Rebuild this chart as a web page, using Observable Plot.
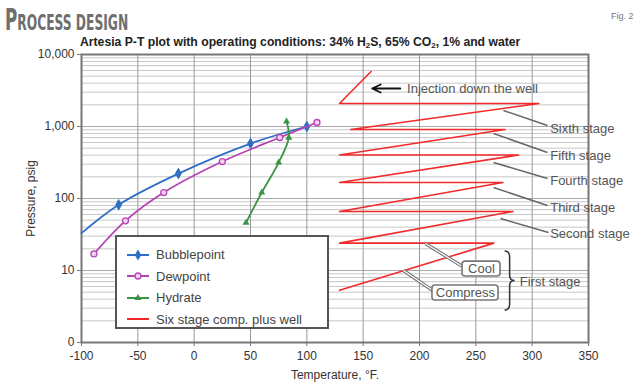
<!DOCTYPE html>
<html>
<head>
<meta charset="utf-8">
<script src="https://cdn.jsdelivr.net/npm/d3@7"></script>
<script src="https://cdn.jsdelivr.net/npm/@observablehq/plot@0.6"></script>
<style>
  body { margin: 0; background: #fff; }
  #wrap { position: relative; width: 640px; height: 386px; overflow: hidden; font-family: "Liberation Sans", Arial, sans-serif; }
  #chart { position: absolute; left: 0; top: 0; }
  #hdr { position: absolute; left: 5px; top: 2px; color: #6e6e6e; font-weight: bold; font-family: "Liberation Sans Narrow", "DejaVu Sans Condensed", sans-serif; white-space: nowrap; transform: scaleX(0.62); transform-origin: left top; z-index: 3; }
  #hdr .big { font-size: 30px; }
  #hdr .sm { font-size: 22px; }
  #fig { position: absolute; left: 611px; top: 11px; font-size: 9px; color: #777; z-index: 3; }
  #title { position: absolute; left: 80px; top: 35px; font-size: 12.2px; font-weight: bold; color: #222; white-space: nowrap; z-index: 3; }
  #title sub { font-size: 8px; vertical-align: -2px; line-height: 0; }
  #legend { position: absolute; left: 115px; top: 235px; width: 214px; height: 94px; border: 2px solid #555; background: #fff; z-index: 3; box-sizing: border-box; padding-top: 7px; }
  #legend .row { height: 21.5px; display: flex; align-items: center; font-size: 13px; color: #444; }
  #legend svg { margin-left: 9px; margin-right: 6px; }
</style>
</head>
<body>
<div id="wrap">
  <div id="chart"></div>
  <div id="hdr"><span class="big">P</span><span class="sm">ROCESS DESIGN</span></div>
  <div id="fig">Fig. 2</div>
  <div id="title">Artesia P-T plot with operating conditions: 34% H<sub>2</sub>S, 65% CO<sub>2</sub>, 1% and water</div>
  <div id="legend"></div>
</div>
<script>
// ---- axes ----
const xTicks = [-100, -50, 0, 50, 100, 150, 200, 250, 300, 350];
const yTicks = [1, 10, 100, 1000, 10000];
const yTickLabels = ["0", "10", "100", "1,000", "10,000"];
const xLabel = "Temperature, \u00B0F.";
const yLabel = "Pressure, psig";

// ---- series ----
const seriesNames = ["Bubblepoint", "Dewpoint", "Hydrate", "Six stage comp. plus well"];
const seriesColors = ["#2e6fc4", "#b545b5", "#3a9446", "#f22a2a"];

const bubbleT = [-100, -67, -14, 50, 100];
const bubbleP = [33, 82, 222, 580, 1000];

const dewT = [-89, -61, -27, 25, 76, 109];
const dewP = [17, 49, 121, 326, 703, 1136];

const hydT = [46, 60, 75, 84, 82];
const hydP = [46, 121, 316, 700, 1170];

const stageT = [129, 266, 129, 283, 129, 274, 129, 288, 129, 276, 139, 306, 129, 157];
const stageP = [5.3, 24, 24, 66, 66, 167, 167, 402, 402, 908, 908, 2086, 2086, 5800];

// ---- annotations ----
const stageLabels = ["Sixth stage", "Fifth stage", "Fourth stage", "Third stage", "Second stage"];
const stageLabelT = [316, 316, 316, 316, 316];
const stageLabelP = [938, 395, 178, 75, 32.6];
const leadT1 = [274.5, 265.7, 265.7, 265.7, 271.9];
const leadP1 = [1668, 800, 316, 142, 52.7];
const leadT2 = [313.6, 313.6, 313.6, 313.6, 314.5];
const leadP2 = [1032, 435, 190, 80, 33.7];

const boxLabels = ["Cool", "Compress"];
const boxT = [255, 240.8];
const boxP = [10.5, 4.87];
const boxT1 = [238.2, 211.5];
const boxT2 = [271.9, 270.1];
const boxP1 = [8.25, 3.83];
const boxP2 = [13.3, 6.19];
const boxLeadT1 = [205.3, 185.8];
const boxLeadP1 = [23.7, 10];
const boxLeadT2 = [238, 211.5];
const boxLeadP2 = [11.4, 5.3];

const injLabel = "Injection down the well";
const injT = [183, 158, 189];   // arrow start, arrow end, text
const injP = 3373;

const firstLabel = "First stage";
const firstT = 289, firstP = 7.0;
const braceT = 276;
const braceP = [18.4, 2.78];

// ---- build tables ----
const bubble = bubbleT.map((t, i) => ({T: t, P: bubbleP[i]}));
const dew = dewT.map((t, i) => ({T: t, P: dewP[i]}));
const hyd = hydT.map((t, i) => ({T: t, P: hydP[i]}));
const stages = stageT.map((t, i) => ({T: t, P: stageP[i]}));
const leaders = stageLabels.map((s, i) => ({s, tx: stageLabelT[i], ty: stageLabelP[i], x1: leadT1[i], y1: leadP1[i], x2: leadT2[i], y2: leadP2[i]}));
const boxes = boxLabels.map((s, i) => ({s, x: boxT[i], y: boxP[i], x1: boxT1[i], x2: boxT2[i], y1: boxP1[i], y2: boxP2[i], lx1: boxLeadT1[i], ly1: boxLeadP1[i], lx2: boxLeadT2[i], ly2: boxLeadP2[i]}));

const minorP = [];
for (let k = 0; k < 4; k++) for (let m = 2; m <= 9; m++) minorP.push(m * Math.pow(10, k));

function brace(index, scales) {
  const x0 = scales.x(braceT);
  const y1 = scales.y(braceP[0]);
  const y2 = scales.y(braceP[1]);
  const ym = (y1 + y2) / 2;
  const w = 5;
  const p = `M${x0},${y1} Q${x0 + w},${y1} ${x0 + w},${y1 + 6} L${x0 + w},${ym - 5} Q${x0 + w},${ym} ${x0 + 2 * w},${ym} Q${x0 + w},${ym} ${x0 + w},${ym + 5} L${x0 + w},${y2 - 6} Q${x0 + w},${y2} ${x0},${y2}`;
  const g = d3.create("svg:path").attr("d", p).attr("fill", "none").attr("stroke", "#333").attr("stroke-width", 1.5);
  return g.node();
}

const chart = Plot.plot({
  width: 640,
  height: 386,
  marginLeft: 81,
  marginRight: 52,
  marginTop: 54,
  marginBottom: 44,
  style: {fontFamily: "Liberation Sans, Arial, sans-serif", fontSize: "12px", color: "#333", background: "transparent"},
  x: {domain: [-100, 350]},
  y: {type: "log", domain: [1, 10000]},
  marks: [
    Plot.ruleY(minorP, {stroke: "#c8c8c8", strokeWidth: 1}),
    Plot.ruleY([10, 100, 1000], {stroke: "#aaa", strokeWidth: 1}),
    Plot.ruleX(xTicks.slice(1, -1), {stroke: "#999", strokeWidth: 1}),
    Plot.frame({stroke: "#777", strokeWidth: 2}),
    Plot.axisX({ticks: xTicks, tickSize: 4, tickPadding: 5, label: null, tickFormat: d => String(d), stroke: "#777", fill: "#333"}),
    Plot.axisY({ticks: yTicks, tickSize: 4, tickPadding: 3, label: null, tickFormat: d => yTickLabels[yTicks.indexOf(d)], stroke: "#777", fill: "#333"}),
    Plot.text([xLabel], {frameAnchor: "bottom", dy: 36, fontSize: 12, fill: "#333"}),
    Plot.text([yLabel], {frameAnchor: "left", dx: -50, rotate: -90, textAnchor: "middle", fontSize: 12, fill: "#333"}),

    Plot.line(bubble, {x: "T", y: "P", stroke: seriesColors[0], strokeWidth: 1.8, curve: "catmull-rom"}),
    Plot.dot(bubble.slice(1), {x: "T", y: "P", symbol: "diamond", fill: seriesColors[0], r: 3.6}),
    Plot.line(dew, {x: "T", y: "P", stroke: seriesColors[1], strokeWidth: 1.8, curve: "catmull-rom"}),
    Plot.dot(dew, {x: "T", y: "P", symbol: "circle", fill: "#f3d2f3", stroke: seriesColors[1], strokeWidth: 1.3, r: 3}),
    Plot.line(hyd, {x: "T", y: "P", stroke: seriesColors[2], strokeWidth: 1.8, curve: "catmull-rom"}),
    Plot.dot(hyd, {x: "T", y: "P", symbol: "triangle", fill: seriesColors[2], r: 2.6}),
    Plot.line(stages, {x: "T", y: "P", stroke: seriesColors[3], strokeWidth: 1.6}),

    // stage leaders and labels
    Plot.link(leaders, {x1: "x1", y1: "y1", x2: "x2", y2: "y2", stroke: "#666", strokeWidth: 1.5}),
    Plot.text(leaders, {x: "tx", y: "ty", text: "s", textAnchor: "start", fontSize: 13, fill: "#555"}),

    // Cool / Compress boxes
    Plot.link(boxes, {x1: "lx1", y1: "ly1", x2: "lx2", y2: "ly2", stroke: "#777", strokeWidth: 3.4}),
    Plot.link(boxes, {x1: "lx1", y1: "ly1", x2: "lx2", y2: "ly2", stroke: "#fff", strokeWidth: 1.2}),
    Plot.rect(boxes, {x1: "x1", x2: "x2", y1: "y1", y2: "y2", fill: "#fff", stroke: "#777", strokeWidth: 1.6, rx: 3}),
    Plot.text(boxes, {x: "x", y: "y", text: "s", fontSize: 13, fill: "#555"}),

    // First stage brace
    brace,
    Plot.text([firstLabel], {x: () => firstT, y: () => firstP, textAnchor: "start", fontSize: 13, fill: "#555"}),

    // Injection arrow
    Plot.arrow([0], {x1: () => injT[0], x2: () => injT[1], y1: () => injP, y2: () => injP, stroke: "#111", strokeWidth: 1.8, headLength: 9, headAngle: 50}),
    Plot.text([injLabel], {x: () => injT[2], y: () => injP, textAnchor: "start", fontSize: 13, fill: "#555"})
  ]
});
document.getElementById("chart").appendChild(chart);

// ---- legend ----
const legend = d3.select("#legend");
const symbols = ["diamond", "circle", "triangle", null];
seriesNames.forEach((name, i) => {
  const row = legend.append("div").attr("class", "row");
  const svg = row.append("svg").attr("width", 24).attr("height", 12);
  svg.append("line").attr("x1", 1).attr("x2", 23).attr("y1", 6).attr("y2", 6).attr("stroke", seriesColors[i]).attr("stroke-width", 2);
  if (symbols[i] === "diamond") svg.append("path").attr("d", d3.symbol(d3.symbolDiamond, 36)()).attr("transform", "translate(12,6)").attr("fill", seriesColors[i]);
  if (symbols[i] === "circle") svg.append("circle").attr("cx", 12).attr("cy", 6).attr("r", 3).attr("fill", "#f3d2f3").attr("stroke", seriesColors[i]).attr("stroke-width", 1.3);
  if (symbols[i] === "triangle") svg.append("path").attr("d", d3.symbol(d3.symbolTriangle, 22)()).attr("transform", "translate(12,6)").attr("fill", seriesColors[i]);
  row.append("span").text(name);
});
</script>
</body>
</html>
